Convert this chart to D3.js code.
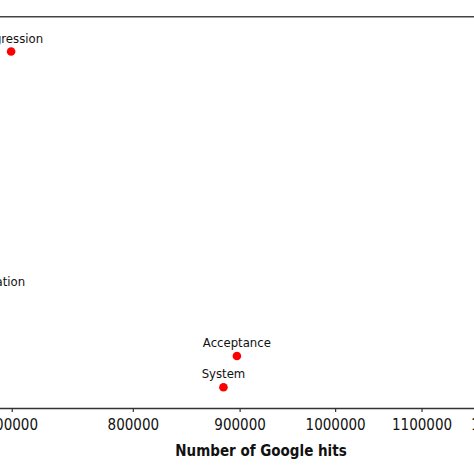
<!DOCTYPE html>
<html>
<head>
<meta charset="utf-8">
<script src="https://cdn.jsdelivr.net/npm/d3@7"></script>
<style>
  html, body { margin: 0; padding: 0; background: #fff; }
  svg { display: block; overflow: hidden; }
  text { font-family: "DejaVu Sans Condensed", "DejaVu Sans", sans-serif; font-stretch: condensed; fill: #111; }
</style>
</head>
<body>
<div id="chart"></div>
<script>
// data (the left side of the original chart is cropped away)
const terms = ["Regression", "Innovation", "Acceptance", "System"];
const googleHits = [699500, 686500, 897300, 884100];
const yValues = [91.1, 28.9, 13.3, 5.3];
const xTicks = [600000, 700000, 800000, 900000, 1000000, 1100000, 1200000, 1300000];

const W = 474, H = 474;
// the plot area runs past both sides of the window
const plot = { left: -128, right: 573, top: 16.7, bottom: 408 };

const svg = d3.select("#chart")
  .append("svg")
  .attr("width", W)
  .attr("height", H);

const x = d3.scaleLog()
  .domain([600000, 1300000])
  .range([plot.left, plot.right]);

const y = d3.scaleLinear()
  .domain([0, 100])
  .range([plot.bottom, plot.top]);

// top frame line
svg.append("line")
  .attr("x1", plot.left).attr("x2", plot.right)
  .attr("y1", plot.top).attr("y2", plot.top)
  .attr("stroke", "#444")
  .attr("stroke-width", 1.5);

// x axis
const xAxis = svg.append("g")
  .attr("transform", `translate(0,${plot.bottom})`)
  .call(d3.axisBottom(x).tickValues(xTicks).tickFormat(d3.format("d")).tickSize(4).tickSizeOuter(0).tickPadding(7));

xAxis.select(".domain").attr("stroke", "#333").attr("stroke-width", 1.4);
xAxis.selectAll(".tick line").attr("stroke", "#333").attr("stroke-width", 1.2);
xAxis.selectAll(".tick text")
  .attr("font-family", null)
  .attr("font-size", null)
  .style("font-size", "15px")
  .attr("fill", "#111");

svg.append("text")
  .attr("x", 261)
  .attr("y", 456)
  .attr("text-anchor", "middle")
  .style("font-size", "15px")
  .style("font-weight", "bold")
  .text("Number of Google hits");

// points
const pts = terms.map((t, i) => ({ term: t, hits: googleHits[i], value: yValues[i] }));

svg.append("g")
  .selectAll("circle")
  .data(pts)
  .enter()
  .append("circle")
  .attr("cx", d => x(d.hits))
  .attr("cy", d => y(d.value))
  .attr("r", 4.3)
  .attr("fill", "#f00");

svg.append("g")
  .selectAll("text")
  .data(pts)
  .enter()
  .append("text")
  .attr("x", d => x(d.hits))
  .attr("y", d => y(d.value) - 9)
  .attr("text-anchor", "middle")
  .style("font-size", "13px")
  .text(d => d.term);
</script>
</body>
</html>
